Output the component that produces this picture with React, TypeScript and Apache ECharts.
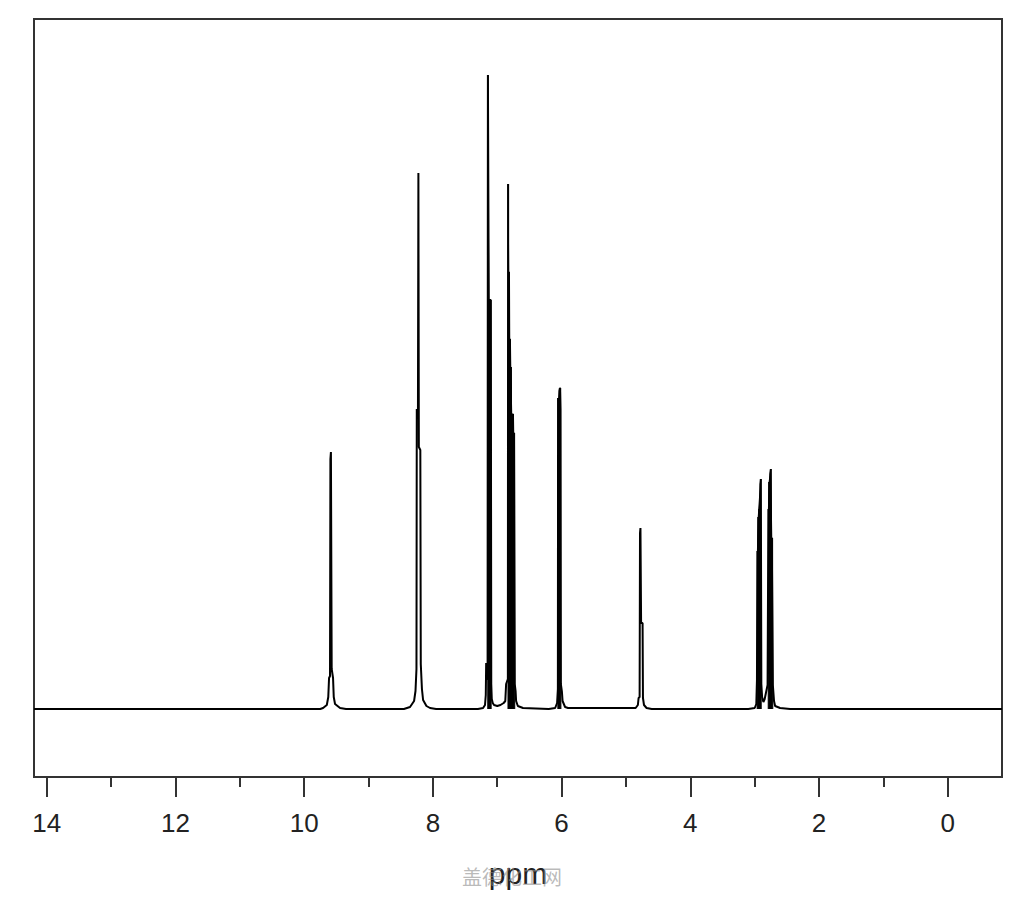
import React, { useEffect, useRef } from "react";
import * as echarts from "echarts";

// Axis range (ppm, reversed as in NMR spectra)
const X_MIN = -0.842;
const X_MAX = 14.197;
// Intensity range (arbitrary units, baseline at 0)
const Y_MIN = -68;
const Y_MAX = 690;

const majorTicks = [0, 2, 4, 6, 8, 10, 12, 14];
const minorTicks = [1, 3, 5, 7, 9, 11, 13];
const axisTitle = "ppm";
const watermark = "盖德化工网";

// Spectrum trace: [ppm, intensity]
const baselineLeft: [number, number][] = [
  [14.197, 0],
  [9.75, 0],
];
const peak958: [number, number][] = [
  [9.706, 1], [9.648, 4], [9.625, 12], [9.613, 31], [9.598, 33],
  [9.592, 250], [9.584, 257], [9.578, 257], [9.572, 40], [9.551, 31],
  [9.54, 12], [9.52, 5], [9.442, 1], [9.35, 0],
];
const peak822: [number, number][] = [
  [8.45, 0], [8.355, 2], [8.292, 8], [8.27, 18], [8.255, 40],
  [8.25, 300], [8.24, 295], [8.232, 290], [8.225, 536], [8.218, 262],
  [8.195, 259], [8.188, 45], [8.17, 20], [8.152, 9], [8.1, 3],
  [8.044, 1], [7.95, 0],
];
const peak714: [number, number][] = [
  [7.3, 0], [7.22, 1], [7.19, 4], [7.178, 14], [7.172, 46], [7.165, 30],
  [7.15, 30], [7.145, 634], [7.138, 634], [7.132, 409], [7.1, 409],
  [7.093, 25], [7.085, 10], [7.07, 6], [7.05, 4], [7.0, 3], [6.95, 4],
  [6.9, 6],
];
const multiplet680: [number, number][] = [
  [6.875, 8], [6.862, 25], [6.835, 30], [6.831, 525], [6.826, 40],
  [6.818, 437], [6.812, 40], [6.802, 370], [6.796, 40], [6.787, 342],
  [6.781, 40], [6.771, 295], [6.765, 40], [6.757, 295], [6.751, 40],
  [6.74, 276], [6.733, 276], [6.728, 25], [6.715, 18], [6.707, 8],
  [6.68, 3], [6.6, 1],
];
const peak603: [number, number][] = [
  [6.2, 0], [6.1, 1], [6.07, 6], [6.058, 20], [6.055, 311], [6.045, 300],
  [6.035, 318], [6.026, 321], [6.018, 300], [6.012, 25], [5.995, 17],
  [5.985, 8], [5.946, 2], [5.9, 1], [5.0, 1],
];
const peak477: [number, number][] = [
  [4.85, 1], [4.815, 4], [4.804, 11], [4.788, 12], [4.782, 176],
  [4.775, 181], [4.765, 86], [4.742, 86], [4.736, 11], [4.72, 4],
  [4.68, 1], [4.6, 0],
];
const doublet283: [number, number][] = [
  [3.1, 0], [3.0, 1], [2.975, 5], [2.965, 29], [2.962, 29], [2.958, 158],
  [2.952, 35], [2.945, 192], [2.938, 35], [2.93, 200], [2.922, 35],
  [2.912, 225], [2.905, 230], [2.897, 25], [2.885, 12], [2.865, 7],
  [2.845, 10], [2.8, 24], [2.792, 24], [2.787, 200], [2.781, 35],
  [2.776, 227], [2.768, 35], [2.758, 235], [2.75, 240], [2.743, 35],
  [2.735, 171], [2.725, 171], [2.718, 24], [2.7, 8], [2.683, 3],
  [2.606, 1], [2.45, 0],
];
const baselineRight: [number, number][] = [[-0.842, 0]];

// Unresolved lines that print as solid black blocks (outline of each block)
const solid714: [number, number][] = [
  [7.147, 0], [7.145, 634], [7.138, 634], [7.132, 409], [7.098, 409], [7.095, 0],
];
const solid680: [number, number][] = [
  [6.833, 0], [6.831, 525], [6.826, 525], [6.822, 437], [6.81, 437],
  [6.806, 370], [6.795, 370], [6.79, 342], [6.78, 342], [6.775, 295],
  [6.748, 295], [6.744, 276], [6.73, 276], [6.728, 0],
];
const solid603: [number, number][] = [
  [6.058, 0], [6.055, 311], [6.04, 305], [6.03, 321], [6.014, 321], [6.011, 0],
];
const solid291: [number, number][] = [
  [2.962, 0], [2.958, 158], [2.945, 192], [2.912, 225], [2.905, 230], [2.899, 0],
];
const solid275: [number, number][] = [
  [2.79, 0], [2.787, 200], [2.776, 227], [2.75, 240], [2.735, 171],
  [2.722, 171], [2.719, 0],
];

const spectrum = [
  ...baselineLeft,
  ...peak958,
  ...peak822,
  ...peak714,
  ...multiplet680,
  ...peak603,
  ...peak477,
  ...doublet283,
  ...baselineRight,
];

const solidBlocks = [solid714, solid680, solid603, solid291, solid275];

const FRAME = "#333";
const FONT = "'Liberation Sans', Arial, sans-serif";

export default function App() {
  const ref = useRef<HTMLDivElement>(null);

  useEffect(() => {
    if (!ref.current) return;
    const chart = echarts.init(ref.current, null, { renderer: "svg" });
    const blockSeries = solidBlocks.map((block) => ({
      type: "line",
      data: block,
      showSymbol: false,
      symbol: "none",
      lineStyle: { color: "#000", width: 1 },
      areaStyle: { color: "#000", opacity: 1, origin: 0 },
      silent: true,
      z: 3,
    }));
    chart.setOption({
      animation: false,
      backgroundColor: "#fff",
      grid: {
        show: true,
        left: 34,
        right: 22,
        top: 19,
        height: 758,
        borderColor: FRAME,
        borderWidth: 2,
        backgroundColor: "transparent",
      },
      xAxis: [
        {
          type: "value",
          min: X_MIN,
          max: X_MAX,
          inverse: true,
          position: "bottom",
          axisLine: { show: false, onZero: false },
          splitLine: { show: false },
          axisTick: {
            show: true,
            customValues: majorTicks,
            length: 20,
            lineStyle: { color: FRAME, width: 2 },
          },
          axisLabel: {
            show: true,
            customValues: majorTicks,
            fontSize: 26,
            fontFamily: FONT,
            color: "#222",
            margin: 33,
            formatter: (v: number) => String(v),
          },
          name: axisTitle,
          nameLocation: "middle",
          nameGap: 81,
          nameTextStyle: { fontSize: 30, fontFamily: FONT, color: "#222" },
        },
        {
          type: "value",
          min: X_MIN,
          max: X_MAX,
          inverse: true,
          position: "bottom",
          offset: 0,
          axisLine: { show: false, onZero: false },
          splitLine: { show: false },
          axisTick: {
            show: true,
            customValues: minorTicks,
            length: 10,
            lineStyle: { color: FRAME, width: 2 },
          },
          axisLabel: { show: false },
        },
      ],
      yAxis: {
        type: "value",
        min: Y_MIN,
        max: Y_MAX,
        show: false,
        splitLine: { show: false },
      },
      series: [
        {
          type: "line",
          xAxisIndex: 0,
          data: spectrum,
          showSymbol: false,
          symbol: "none",
          lineStyle: { color: "#000", width: 2 },
          silent: true,
          z: 4,
        },
        ...blockSeries,
      ],
      graphic: [
        {
          type: "text",
          x: 512,
          y: 876,
          z: 100,
          style: {
            text: watermark,
            fill: "rgba(140,140,140,0.6)",
            font: "20px 'Noto Sans CJK SC'",
            textAlign: "center",
            textVerticalAlign: "middle",
          },
        },
      ],
    });
    return () => chart.dispose();
  }, []);

  return (
    <div
      ref={ref}
      style={{ position: "fixed", left: 0, top: 0, width: 1024, height: 900 }}
    />
  );
}
